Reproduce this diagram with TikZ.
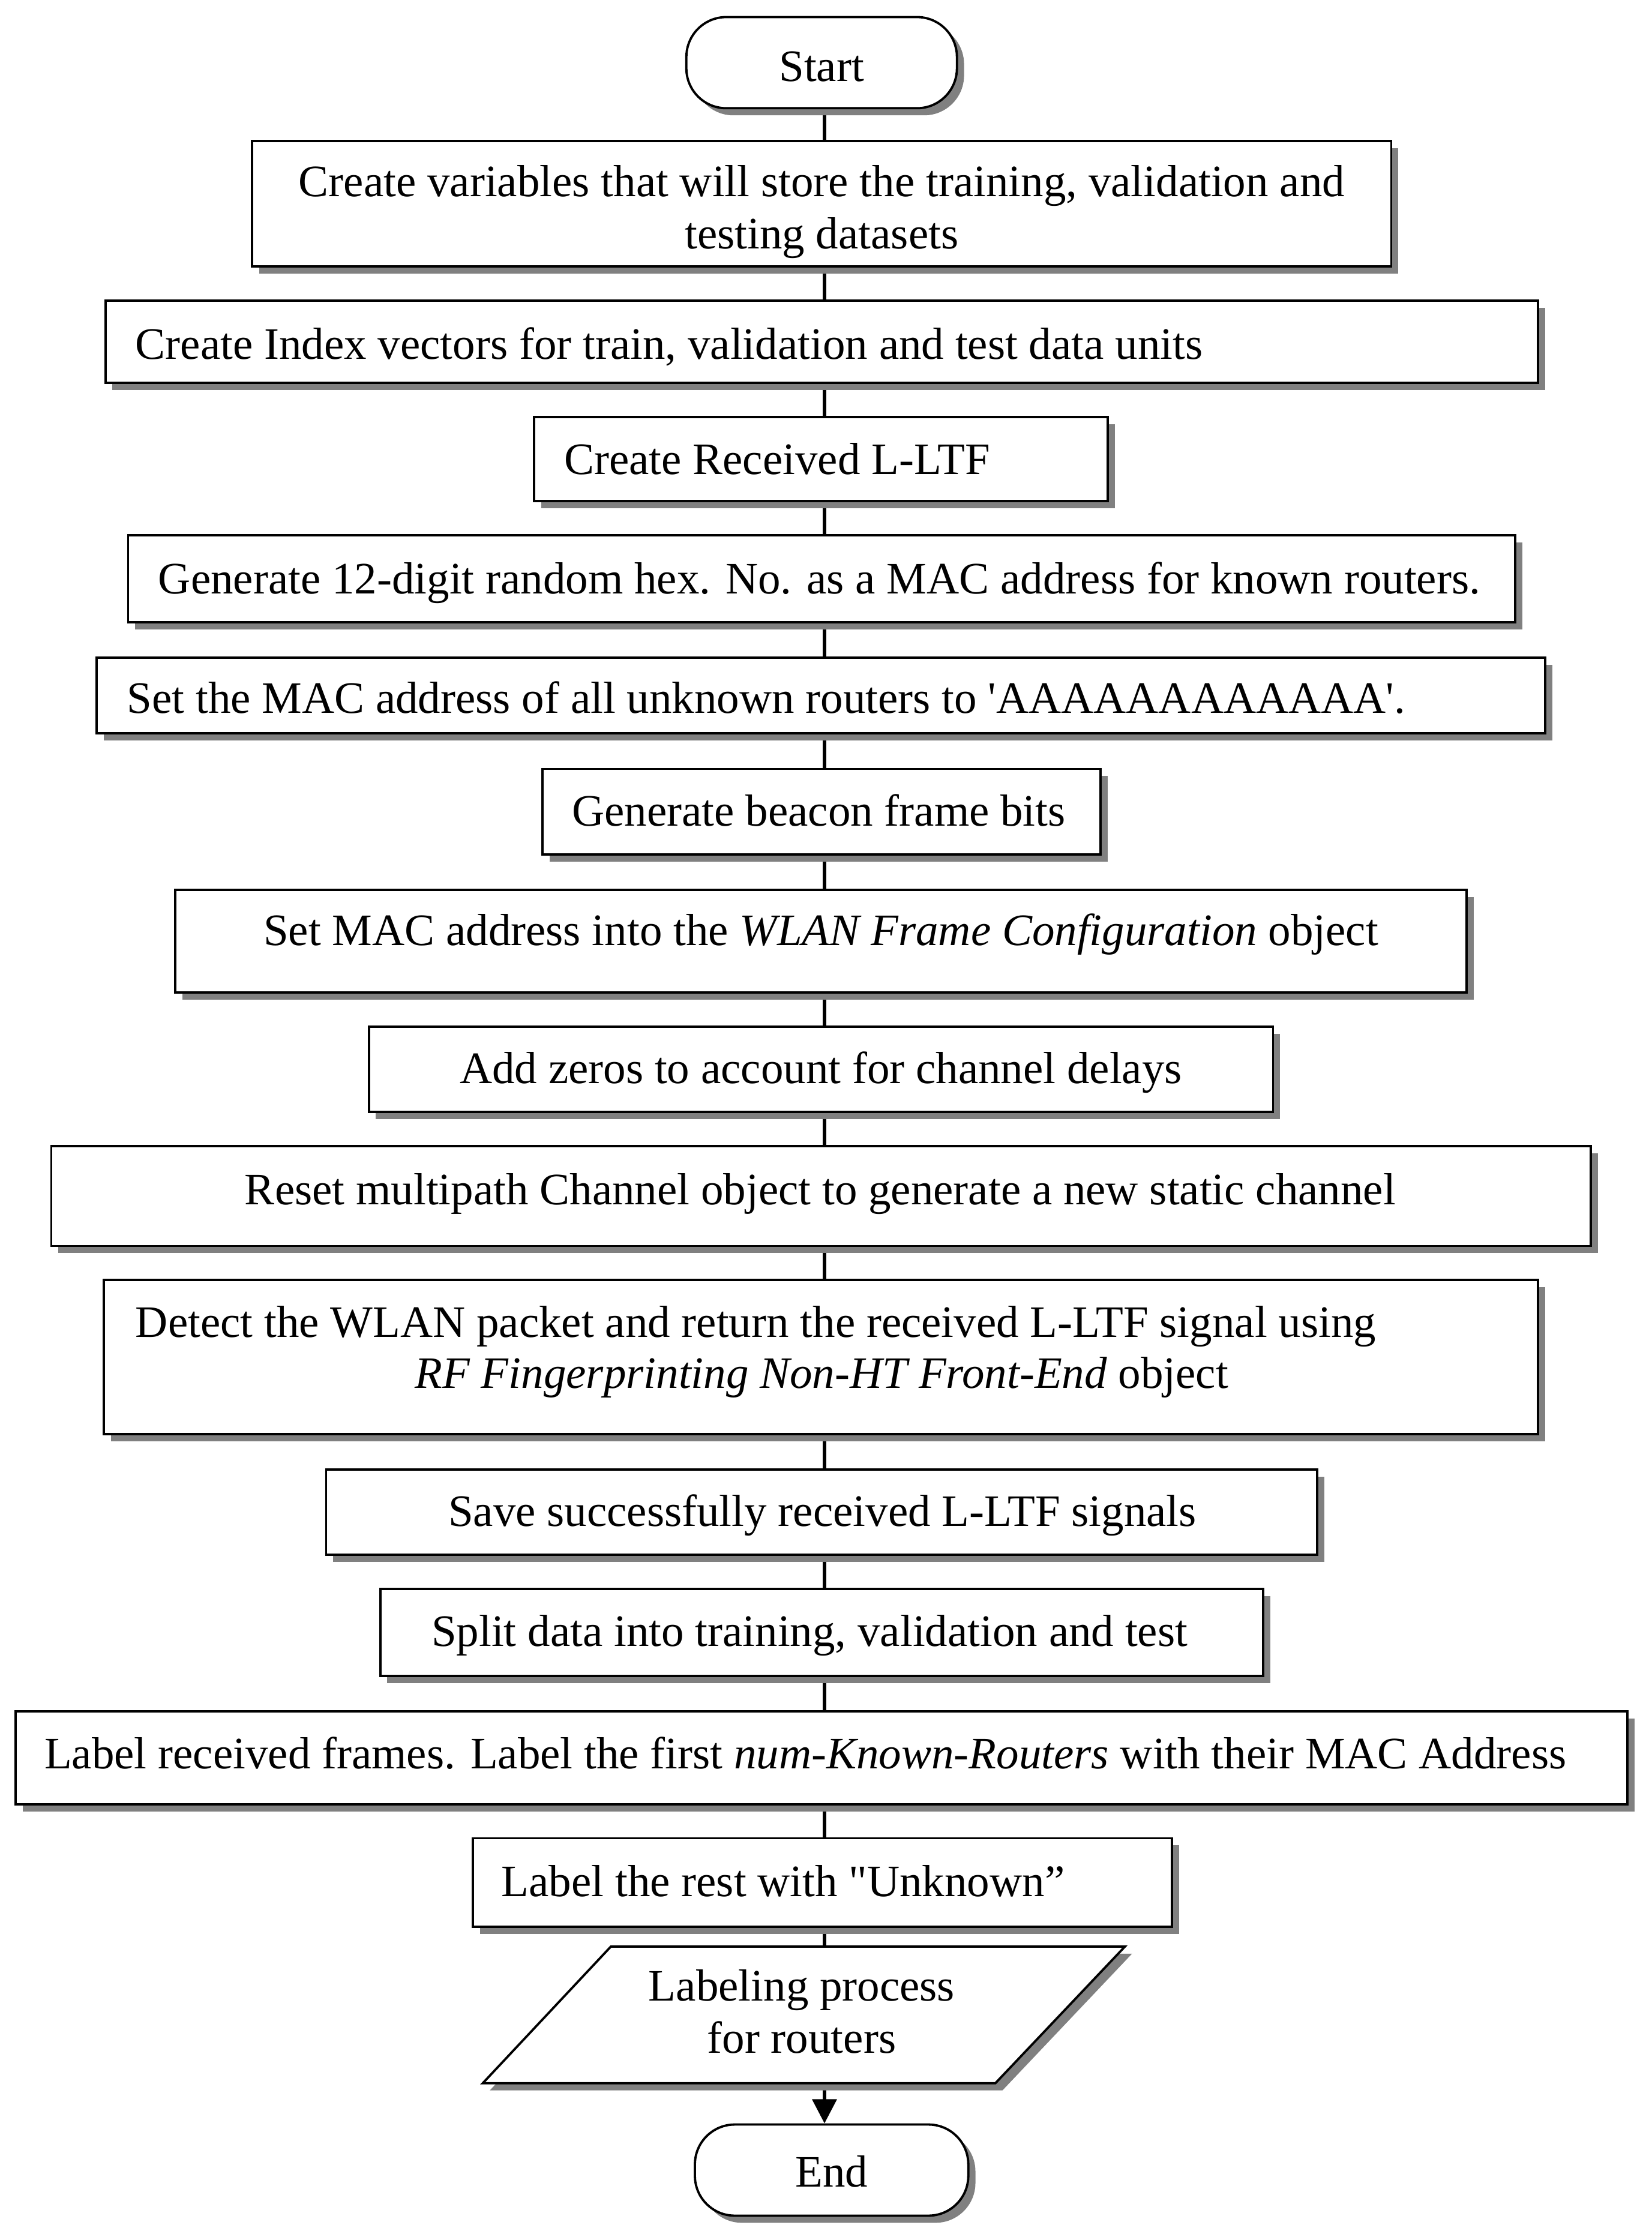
\documentclass[tikz,border=0pt]{standalone}
\usepackage{fontspec}
\setmainfont{Liberation Serif}
\usetikzlibrary{shadows,arrows.meta}
\pgfdeclarelayer{bglayer}
\pgfdeclarelayer{connlayer}
\pgfsetlayers{bglayer,connlayer,main}
\begin{document}
\begin{tikzpicture}[x=1pt,y=-1pt,
  boxshadow/.style={drop shadow={shadow xshift=5pt,shadow yshift=-5pt,fill=black!50,opacity=1}},
  outline/.style={draw=black,line width=1.6pt,fill=white,boxshadow},
  box/.style={outline,shape=rectangle,inner sep=0pt},
  term/.style={box,rounded corners=28pt},
  txt/.style={inner sep=0pt,font=\fontsize{31.6}{36}\selectfont},
  conn/.style={draw=black,line width=2.4pt}]
\begin{pgfonlayer}{bglayer}
\fill[white] (0,0) rectangle (1160,1571);
\end{pgfonlayer}
\useasboundingbox (0,0) rectangle (1160,1571);
\coordinate (spine) at (579,0);

% shapes
\node[term, minimum width=190pt, minimum height=64pt] (start) at (577,44) {};
\node[box, minimum width=800pt, minimum height=88pt] (b1) at (577,143) {};
\node[box, minimum width=1006pt, minimum height=58pt] (b2) at (577,240) {};
\node[box, minimum width=403pt, minimum height=59pt] (b3) at (576.5,322.5) {};
\node[box, minimum width=974pt, minimum height=61pt] (b4) at (577,406.5) {};
\node[box, minimum width=1017pt, minimum height=53pt] (b5) at (576.5,488.5) {};
\node[box, minimum width=392pt, minimum height=60pt] (b6) at (577,570) {};
\node[box, minimum width=907pt, minimum height=72pt] (b7) at (576.5,661) {};
\node[box, minimum width=635pt, minimum height=60pt] (b8) at (576.5,751) {};
\node[box, minimum width=1081pt, minimum height=70pt] (b9) at (576.5,840) {};
\node[box, minimum width=1007pt, minimum height=108pt] (b10) at (576.5,953) {};
\node[box, minimum width=696pt, minimum height=60pt] (b11) at (577,1062) {};
\node[box, minimum width=620pt, minimum height=61pt] (b12) at (577,1146.5) {};
\node[box, minimum width=1132pt, minimum height=65pt] (b13) at (577,1234.5) {};
\node[box, minimum width=491pt, minimum height=62pt] (b14) at (577.5,1322) {};
\draw[outline] (429,1367) -- (790,1367) -- (699,1463) -- (339,1463) -- cycle;
\coordinate (ptop) at (579,1367);
\coordinate (pbot) at (579,1463);
\node[term, minimum width=192pt, minimum height=64pt] (end) at (584,1524) {};

% texts
\node[txt, anchor=base] (tstart) at (577,57) {Start};
\node[txt, anchor=base] (t1a) at (577,138) {Create variables that will store the training, validation and};
\node[txt, anchor=base] (t1b) at (577,174.5) {testing datasets};
\node[txt, anchor=base west] (t2) at (95,252) {Create Index vectors for train, validation and test data units};
\node[txt, anchor=base west] (t3) at (396,333) {Create Received L-LTF};
\node[txt, anchor=base west] (t4) at (111,417) {Generate 12-digit random hex. No. as a MAC address for known routers.};
\node[txt, anchor=base west] (t5) at (89,501) {Set the MAC address of all unknown routers to \textquotesingle AAAAAAAAAAAA\textquotesingle.};
\node[txt, anchor=base] (t6) at (575,580) {Generate beacon frame bits};
\node[txt, anchor=base] (t7) at (576.5,664) {Set MAC address into the \textit{WLAN Frame Configuration} object};
\node[txt, anchor=base] (t8) at (576.5,761) {Add zeros to account for channel delays};
\node[txt, anchor=base] (t9) at (576,846) {Reset multipath Channel object to generate a new static channel};
\node[txt, anchor=base west] (t10a) at (95,939) {Detect the WLAN packet and return the received L-LTF signal using};
\node[txt, anchor=base] (t10b) at (577,975) {\textit{RF Fingerprinting Non-HT Front-End} object};
\node[txt, anchor=base] (t11) at (577.5,1072) {Save successfully received L-LTF signals};
\node[txt, anchor=base] (t12) at (568.5,1156) {Split data into training, validation and test};
\node[txt, anchor=base west] (t13) at (31,1242) {Label received frames. Label the first \textit{num-Known-Routers} with their MAC Address};
\node[txt, anchor=base west] (t14) at (352,1332) {Label the rest with \textquotedbl Unknown''};
\node[txt, anchor=base] (tp1) at (563,1405) {Labeling process};
\node[txt, anchor=base] (tp2) at (563,1442) {for routers};
\node[txt, anchor=base] (tend) at (584,1536) {End};

% connectors
\begin{pgfonlayer}{connlayer}
\draw[conn] (start.south -| spine) -- (b1.north -| spine);
\draw[conn] (b1.south -| spine) -- (b2.north -| spine);
\draw[conn] (b2.south -| spine) -- (b3.north -| spine);
\draw[conn] (b3.south -| spine) -- (b4.north -| spine);
\draw[conn] (b4.south -| spine) -- (b5.north -| spine);
\draw[conn] (b5.south -| spine) -- (b6.north -| spine);
\draw[conn] (b6.south -| spine) -- (b7.north -| spine);
\draw[conn] (b7.south -| spine) -- (b8.north -| spine);
\draw[conn] (b8.south -| spine) -- (b9.north -| spine);
\draw[conn] (b9.south -| spine) -- (b10.north -| spine);
\draw[conn] (b10.south -| spine) -- (b11.north -| spine);
\draw[conn] (b11.south -| spine) -- (b12.north -| spine);
\draw[conn] (b12.south -| spine) -- (b13.north -| spine);
\draw[conn] (b13.south -| spine) -- (b14.north -| spine);
\draw[conn] (b14.south -| spine) -- (ptop);
\draw[conn, -{Triangle[length=17pt,width=17pt]}] (pbot) -- (pbot |- end.north);
\end{pgfonlayer}
\end{tikzpicture}
\end{document}
